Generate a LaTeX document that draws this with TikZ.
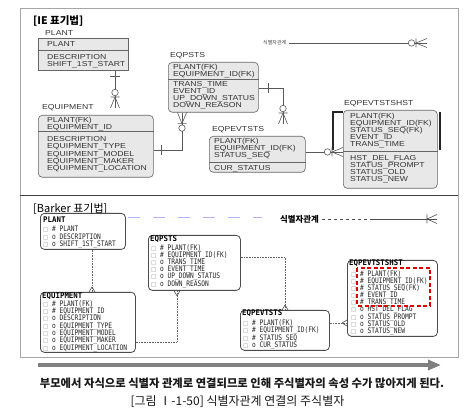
\documentclass[tikz,border=0pt]{standalone}
\usepackage{fontspec}
\usetikzlibrary{arrows.meta,calc}
\setmainfont{Liberation Sans}
\newfontfamily\kr{Noto Sans CJK KR}
\newfontfamily\iefont{Liberation Sans}[FakeStretch=1.2]
\newfontfamily\bkfont{DejaVu Sans Mono}[FakeStretch=0.82]
\newfontfamily\bktfont{DejaVu Sans Mono}[FakeStretch=0.95]
\newfontfamily\dvfont{DejaVu Sans}
\newcommand\cbx{{\dvfont\fontsize{5.5}{5.5}\selectfont\color{black!45}□}}
\newcommand\bkk{\cbx\ \#\ }
\newcommand\bka{\cbx\ o\ }
\newcommand\iesz[1]{\iefont\fontsize{7.2}{#1}\selectfont\lineskiplimit=-20pt\lineskip=0pt}
\newcommand\bksz[1]{\bkfont\fontsize{7.6}{#1}\selectfont\lineskiplimit=-20pt\lineskip=0pt}
\tikzset{
  frame/.style={draw=black!35, line width=0.8pt},
  iebox/.style={draw=black!60, fill=black!9, rounded corners=4pt, line width=0.6pt, inner sep=0pt, anchor=north west},
  iesq/.style={iebox, sharp corners},
  iediv/.style={draw=black!60, line width=0.6pt},
  ietext/.style={anchor=north west, inner sep=0pt, align=left, text=black!80, font=\iesz{7}},
  ielabel/.style={anchor=west, inner sep=0pt, text=black!80, font=\iesz{7}},
  rel/.style={draw=black!65, line width=0.6pt},
  bkbox/.style={draw=black!70, fill=white, rounded corners=4pt, line width=0.8pt, inner sep=0pt, anchor=north west},
  bktext/.style={anchor=north west, inner sep=0pt, align=left, text=black!85, font=\bksz{7.2}},
  bktitle/.style={anchor=west, inner sep=0pt, text=black, font=\bktfont\bfseries\fontsize{7.8}{8}\selectfont},
  bkrel/.style={draw=black!60, densely dotted, line width=0.6pt},
  iefoot/.pic={
    \draw[rel] (-11,0) -- (0,4.5) (-11,0) -- (0,-4.5) (-11,4.5) -- (-11,-4.5);
    \draw[rel, fill=white] (-15.5,0) circle (3.2pt);
  },
  iebar/.pic={\draw[rel] (0,-5) -- (0,5);},
  bkfoot/.pic={\draw[draw=black!70, line width=0.6pt] (-5,0) -- (0,3) (-5,0) -- (0,-3);},
}
\begin{document}
\begin{tikzpicture}[x=1pt,y=-1pt]
\fill[white] (0,0) rectangle (474,411);
\useasboundingbox (0,0) rectangle (474,411);

% frame
\draw[frame] (20,8) rectangle (458,357);
\draw[black!75, line width=0.9pt] (20,195.5) -- (458,195.5);

% ================= IE =================
\node[anchor=west, inner sep=0pt, font=\kr\bfseries\fontsize{10.5}{12}\selectfont] (ie-title) at (33,21) {[IE 표기법]};

% PLANT
\node[ielabel] (ie-plant-l) at (45,33) {PLANT};
\node[iesq, minimum width=90pt, minimum height=32pt] (ie-plant) at (38,38) {};
\node[ietext] (ie-plant-k) at (47,41.4) {PLANT};
\draw[iediv] (ie-plant.west |- 0,50) -- (ie-plant.east |- 0,50);
\node[ietext, font=\iesz{6.8}] (ie-plant-a) at (47,54.4) {DESCRIPTION\\SHIFT\_1ST\_START};

% EQPSTS
\node[ielabel] (ie-eqpsts-l) at (170,56) {EQPSTS};
\node[iebox, minimum width=90pt, minimum height=50pt] (ie-eqpsts) at (168,62) {};
\node[ietext] (ie-eqpsts-k) at (173,64.4) {PLANT(FK)\\EQUIPMENT\_ID(FK)};
\draw[iediv] (ie-eqpsts.west |- 0,79) -- (ie-eqpsts.east |- 0,79);
\node[ietext, font=\iesz{6.8}] (ie-eqpsts-a) at (173,81.4) {TRANS\_TIME\\EVENT\_ID\\UP\_DOWN\_STATUS\\DOWN\_REASON};

% EQUIPMENT
\node[ielabel] (ie-equip-l) at (42,108) {EQUIPMENT};
\node[iebox, minimum width=115pt, minimum height=62pt] (ie-equip) at (38,115) {};
\node[ietext] (ie-equip-k) at (47,117.4) {PLANT(FK)\\EQUIPMENT\_ID};
\draw[iediv] (ie-equip.west |- 0,131) -- (ie-equip.east |- 0,131);
\node[ietext, font=\iesz{7.2}] (ie-equip-a) at (47,136.4) {DESCRIPTION\\EQUIPMENT\_TYPE\\EQUIPMENT\_MODEL\\EQUIPMENT\_MAKER\\EQUIPMENT\_LOCATION};

% EQPEVTSTS
\node[ielabel] (ie-evt-l) at (212,130) {EQPEVTSTS};
\node[iebox, minimum width=96pt, minimum height=36pt] (ie-evt) at (209,136) {};
\node[ietext] (ie-evt-k) at (214,138.4) {PLANT(FK)\\EQUIPMENT\_ID(FK)\\STATUS\_SEQ};
\draw[iediv] (ie-evt.west |- 0,162.5) -- (ie-evt.east |- 0,162.5);
\node[ietext] (ie-evt-a) at (214,165.4) {CUR\_STATUS};

% EQPEVTSTSHST
\node[ielabel] (ie-hst-l) at (344,104) {EQPEVTSTSHST};
\node[iebox, minimum width=94pt, minimum height=78pt] (ie-hst) at (343,110) {};
\node[ietext] (ie-hst-k) at (350,113.4) {PLANT(FK)\\EQUIPMENT\_ID(FK)\\STATUS\_SEQ(FK)\\EVENT\_ID\\TRANS\_TIME};
\draw[iediv] (ie-hst.west |- 0,151.5) -- (ie-hst.east |- 0,151.5);
\node[ietext] (ie-hst-a) at (350,155.4) {HST\_DEL\_FLAG\\STATUS\_PROMPT\\STATUS\_OLD\\STATUS\_NEW};
\draw[black!85, line width=1.3pt] (333,150) -- (333,112) -- (ie-hst.west |- 0,112);
\draw[black!85, line width=1.3pt] (440,112) -- (440,150);

% IE relationships
\coordinate (ie-r1-end) at (115,108);
\draw[rel] (ie-plant.south -| 115,0) -- (ie-r1-end);
\pic[rotate=-90] at (115,76) {iebar};
\pic[rotate=-90] at (ie-r1-end) {iefoot};

\draw[rel] (ie-equip.east |- 0,150) -| (ie-eqpsts.south -| 182,0);
\pic at (161,150) {iebar};
\pic[rotate=90] at (ie-eqpsts.south -| 182,0) {iefoot};

\coordinate (ie-r3-end) at (283,124);
\draw[rel] (ie-eqpsts.east |- 0,88) -| (ie-r3-end);
\pic at (268,88) {iebar};
\pic[rotate=-90] at (ie-r3-end) {iefoot};

\draw[rel] (ie-evt.east |- 0,152) -- (ie-hst.west |- 0,152);
\pic at (ie-hst.west |- 0,152) {iefoot};

% IE legend
\node[anchor=west, inner sep=0pt, text=black!75, font=\kr\fontsize{5}{5}\selectfont] (ie-leg) at (263,43) {식별자관계};
\coordinate (ie-leg-end) at (427,43);
\draw[rel] ([xshift=3pt]ie-leg.east) -- (ie-leg-end);
\pic at (ie-leg-end) {iefoot};

% ================= Barker =================
\node[anchor=west, inner sep=0pt, font=\kr\fontsize{11}{12}\selectfont] (bk-title) at (33,209) {[Barker 표기법]};
\draw[blue!30, dash pattern=on 12pt off 13pt, line width=0.8pt] (128,217) -- (262,217);

\node[anchor=west, inner sep=0pt, font=\kr\bfseries\fontsize{8.4}{9}\selectfont] (bk-leg) at (280,219) {식별자관계};
\coordinate (bk-leg-mid) at (373,219);
\coordinate (bk-leg-end) at (437,219);
\draw[draw=black!70, dash pattern=on 3pt off 3pt, line width=0.6pt] ([xshift=3pt]bk-leg.east) -- (bk-leg-mid);
\draw[draw=black!70, line width=0.6pt] (bk-leg-mid) -- (bk-leg-end);
\draw[draw=black!70, line width=0.6pt] (427,214.5) -- (427,223.5) (427,219) -- (437,214.5) (427,219) -- (437,223.5);

% PLANT
\node[bkbox, minimum width=85pt, minimum height=36pt] (bk-plant) at (40,213) {};
\node[bktitle] (bk-plant-t) at (43,219.5) {PLANT};
\node[bktext, font=\bksz{7.5}] (bk-plant-r) at (43,226.2) {\bkk PLANT\\\bka DESCRIPTION\\\bka SHIFT\_1ST\_START};

% EQPSTS
\node[bkbox, minimum width=92pt, minimum height=55pt] (bk-eqpsts) at (148,235) {};
\node[bktitle] (bk-eqpsts-t) at (150,239) {EQPSTS};
\node[bktext] (bk-eqpsts-r) at (151,244.2) {\bkk PLANT(FK)\\\bkk EQUIPMENT\_ID(FK)\\\bka TRANS\_TIME\\\bka EVENT\_TIME\\\bka UP\_DOWN\_STATUS\\\bka DOWN\_REASON};

% EQUIPMENT
\node[bkbox, minimum width=95pt, minimum height=60pt] (bk-equip) at (40,292) {};
\node[bktitle] (bk-equip-t) at (42,296) {EQUIPMENT};
\node[bktext, font=\bksz{7.33}] (bk-equip-r) at (43,300.2) {\bkk PLANT(FK)\\\bkk EQUIPMENT\_ID\\\bka DESCRIPTION\\\bka EQUIPMENT\_TYPE\\\bka EQUIPMENT\_MODEL\\\bka EQUIPMENT\_MAKER\\\bka EQUIPMENT\_LOCATION};

% EQPEVTSTS
\node[bkbox, minimum width=89pt, minimum height=40pt] (bk-evt) at (240,310) {};
\node[bktitle] (bk-evt-t) at (242,313.5) {EQPEVTSTS};
\node[bktext, font=\bksz{7.6}] (bk-evt-r) at (243,319.2) {\bkk PLANT(FK)\\\bkk EQUIPMENT\_ID(FK)\\\bkk STATUS\_SEQ\\\bka CUR\_STATUS};

% EQPEVTSTSHST
\node[bkbox, minimum width=90pt, minimum height=76pt] (bk-hst) at (347,260) {};
\node[bktitle] (bk-hst-t) at (349,263) {EQPEVTSTSHST};
\node[bktext, font=\bksz{7.15}] (bk-hst-r) at (351,270.2) {\bkk PLANT(FK)\\\bkk EQUIPMENT\_ID(FK)\\\bkk STATUS\_SEQ(FK)\\\bkk EVENT\_ID\\\bkk TRANS\_TIME\\\bka HST\_DEL\_FLAG\\\bka STATUS\_PROMPT\\\bka STATUS\_OLD\\\bka STATUS\_NEW};
\draw[red!85!black, line width=1.2pt, dash pattern=on 4pt off 2.5pt] (357,268) rectangle (430,306);

% Barker relationships
\draw[bkrel] (bk-plant.south -| 92,0) -- (bk-equip.north -| 92,0);
\pic[rotate=-90] at (bk-equip.north -| 92,0) {bkfoot};
\draw[bkrel] (bk-equip.east |- 0,342) -| (bk-eqpsts.south -| 177,0);
\pic[rotate=90] at (bk-eqpsts.south -| 177,0) {bkfoot};
\draw[bkrel] (bk-eqpsts.east |- 0,257) -| (bk-evt.north -| 285,0);
\pic[rotate=-90] at (bk-evt.north -| 285,0) {bkfoot};
\draw[bkrel] (bk-evt.east |- 0,323) -- (bk-hst.west |- 0,323);
\pic at (bk-hst.west |- 0,323) {bkfoot};

% ================= bottom =================
\coordinate (arr-s) at (38,365);
\coordinate (arr-e) at (441,365);
\draw[black!50, line width=4pt, -{Triangle[length=13pt,width=10pt]}] (arr-s) -- (arr-e);
\node[inner sep=0pt, text=black!90, font=\kr\bfseries\fontsize{11.3}{12}\selectfont] (note) at (242,383) {부모에서 자식으로 식별자 관계로 연결되므로 인해 주식별자의 속성 수가 많아지게 된다.};
\node[inner sep=0pt, text=black!90, font=\kr\fontsize{12}{13}\selectfont] (caption) at (237.5,402) {[그림 Ⅰ-1-50] 식별자관계 연결의 주식별자};
\end{tikzpicture}
\end{document}
